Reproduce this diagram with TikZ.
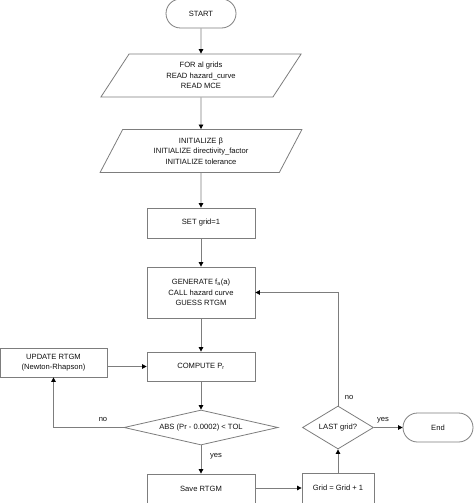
\documentclass[tikz,border=0pt]{standalone}
\usepackage{fontspec}
\setmainfont{Liberation Sans}
\usetikzlibrary{shapes.geometric,shapes.misc,arrows.meta}
\definecolor{ln}{RGB}{125,125,125}
\definecolor{tx}{RGB}{15,15,15}
\begin{document}
\begin{tikzpicture}[x=1pt,y=-1pt,
  base/.style={draw=ln,line width=0.8pt,text=tx,font=\fontsize{7.6}{10.5}\selectfont,align=center,inner sep=1pt},
  proc/.style={base,rectangle,minimum width=108pt},
  term/.style={base,rounded rectangle,minimum width=72pt,minimum height=29pt},
  io/.style={base,trapezium,trapezium stretches=true,trapezium left angle=64,trapezium right angle=116,minimum width=202pt,minimum height=43pt},
  dec/.style={base,diamond,inner sep=0pt},
  conn/.style={draw=ln,line width=0.8pt,-{Triangle[length=4.5pt,width=4.5pt,color=black]}},
  lab/.style={text=tx,font=\fontsize{7.6}{9}\selectfont,inner sep=0pt}]
\useasboundingbox (0,0) rectangle (474,503);

\node[term] (start) at (201,13.5) {START};
\node[io] (p1) at (201,75.5) {FOR al grids\\READ hazard\_curve\\READ MCE};
\node[io] (p2) at (201,151) {INITIALIZE β\\INITIALIZE directivity\_factor\\INITIALIZE tolerance};
\node[proc,minimum height=30pt] (set) at (201,223) {SET grid=1};
\node[proc,minimum height=51pt] (gen) at (201,292.5) {GENERATE f\textsubscript{a}(a)\\CALL hazard curve\\GUESS RTGM};
\node[proc,minimum height=29pt] (comp) at (201,366.5) {COMPUTE P\textsubscript{r}};
\node[dec,aspect=4.4,minimum width=154pt,minimum height=35pt] (d1) at (201,427.5) {ABS (Pr - 0.0002) < TOL};
\node[proc,minimum height=30pt] (save) at (201,489) {Save RTGM};
\node[proc,minimum width=107pt,minimum height=29pt] (upd) at (53.5,362.5) {UPDATE RTGM\\(Newton-Rhapson)};
\node[proc,minimum width=72pt,minimum height=30pt] (grid) at (338,488) {Grid = Grid + 1};
\node[dec,aspect=1.65,minimum width=71pt,minimum height=43pt] (d2) at (338,427.5) {LAST grid?};
\node[term] (end) at (438,427.5) {End};

\draw[conn] (start) -- (p1);
\draw[conn] (p1) -- (p2);
\draw[conn] (p2) -- (set);
\draw[conn] (set) -- (gen);
\draw[conn] (gen) -- (comp);
\draw[conn] (comp) -- (d1);
\draw[conn] (d1) -- (save);
\draw[conn] (d1.west) -| (upd.south);
\draw[conn] (upd.east |- comp.west) -- (comp.west);
\draw[conn] (save.east |- 0,488) -- (grid.west |- 0,488);
\draw[conn] (grid) -- (d2);
\draw[conn] (d2.east) -- (end.west);
\draw[conn] (d2.north) |- (gen.east);

\node[lab] (no1) at (103,419) {no};
\node[lab] (yes1) at (216,456) {yes};
\node[lab] (no2) at (349,397) {no};
\node[lab] (yes2) at (383,420) {yes};
\end{tikzpicture}
\end{document}
